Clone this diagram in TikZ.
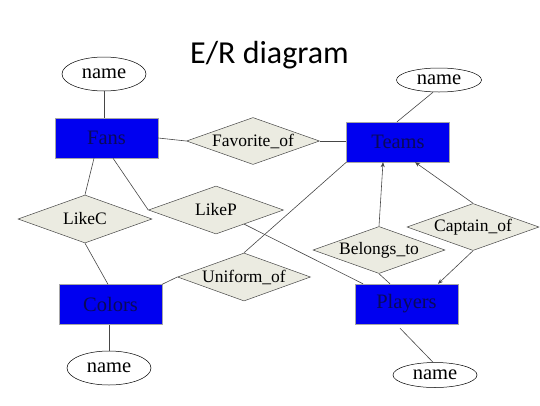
\documentclass[tikz,border=0pt]{standalone}
\usepackage{fontspec}
\setmainfont{Liberation Serif}
\newfontfamily\titlefont{Carlito}
\usetikzlibrary{shapes.geometric,arrows.meta}
\definecolor{entblue}{RGB}{0,0,240}
\definecolor{enttext}{RGB}{10,10,90}
\definecolor{relfill}{RGB}{235,235,225}
\definecolor{linegrey}{RGB}{70,70,70}
\tikzset{
  entity/.style={rectangle,draw=gray!70,fill=entblue,text=enttext,minimum width=103pt,minimum height=40pt,inner sep=0pt,font=\fontsize{20.5}{22}\selectfont},
  attrib/.style={ellipse,draw=black,line width=0.5pt,fill=white,inner sep=0pt,font=\fontsize{20.5}{22}\selectfont},
  rel/.style={diamond,draw=linegrey,line width=0.5pt,fill=relfill,inner sep=0pt,aspect=2.8,font=\fontsize{17.5}{19}\selectfont},
  conn/.style={draw=linegrey,line width=0.6pt},
  arr/.style={conn,-{Stealth[length=5pt,width=4pt]}}
}
\begin{document}
\begin{tikzpicture}[x=1pt,y=-1pt]
\useasboundingbox (0,0) rectangle (540,405);
\node[anchor=base,font=\titlefont\fontsize{32}{36}\selectfont] (title) at (269.5,63) {E/R diagram};
% entities
\node[entity] (fans) at (106.5,138) {Fans};
\node[entity] (teams) at (398,142) {Teams};
\node[entity] (colors) at (110.5,304.5) {Colors};
\node[entity] (players) at (406.5,304) {Players};
% attributes
\node[attrib,minimum width=84pt,minimum height=34pt] (fansname) at (104,74) {name};
\node[attrib,minimum width=85pt,minimum height=24pt] (teamsname) at (439,80) {name};
\node[attrib,minimum width=84pt,minimum height=34pt] (colorsname) at (109,368) {name};
\node[attrib,minimum width=84pt,minimum height=25pt] (playersname) at (435,375) {name};
% relationships
\node[rel,minimum width=133pt,minimum height=47pt] (fav) at (253,141) {Favorite\_of};
\node[rel,minimum width=134pt,minimum height=48pt] (likec) at (85,219) {LikeC};
\node[rel,minimum width=135pt,minimum height=48pt] (likep) at (216,210) {LikeP};
\node[rel,minimum width=133pt,minimum height=48pt] (unif) at (244,277) {Uniform\_of};
\node[rel,minimum width=132pt,minimum height=47pt] (belongs) at (379,250) {Belongs\_to};
\node[rel,minimum width=132pt,minimum height=47pt] (captain) at (473,227) {Captain\_of};
% connectors
\draw[conn] (fansname.south) -- (fansname.south |- fans.north);
\draw[conn] ([xshift=-6pt]teamsname.south) -- ([xshift=-1pt]teams.north);
\draw[conn] (colorsname.north) -- (colorsname.north |- colors.south);
\draw[conn] ([xshift=-6.5pt,yshift=-4pt]players.south) -- ([xshift=-2pt]playersname.north);
\draw[conn] (fans.east) -- (fav.west);
\draw[conn] (fav.east) -- (fav.east -| teams.west);
\draw[conn] ([xshift=-12.5pt]fans.south) -- (likec.north);
\draw[conn] (likec.south) -- ([xshift=-2.5pt]colors.north);
\draw[conn] ([xshift=6.5pt]fans.south) -- (likep.west);
\draw[conn] (likep) -- ([xshift=-43.5pt]players.north);
\draw[conn] (teams.south west) -- (unif.north);
\draw[conn] (colors.north east) -- (unif.west);
\draw[arr] (belongs.north) -- ([xshift=-15pt]teams.south);
\draw[conn] (belongs.south) -- ([xshift=-16.5pt]players.north);
\draw[arr] (captain.north) -- ([xshift=17pt]teams.south);
\draw[arr] (captain.south) -- ([xshift=31.5pt]players.north);
\end{tikzpicture}
\end{document}
